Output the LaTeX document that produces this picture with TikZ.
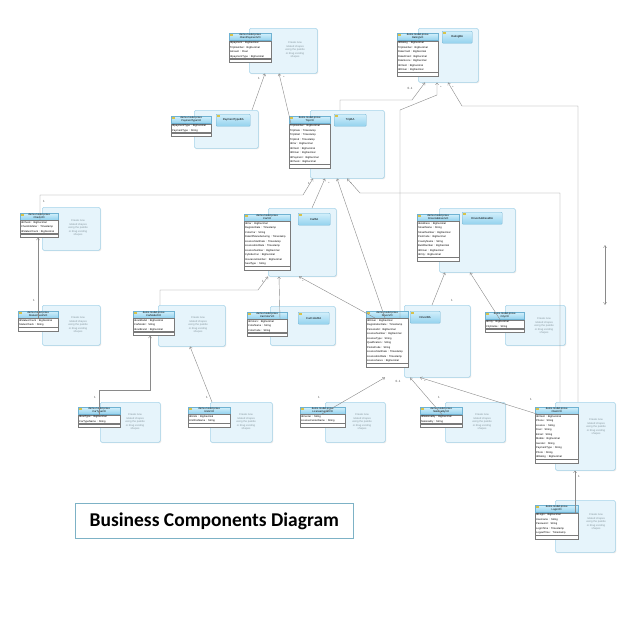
\documentclass[tikz,border=0pt]{standalone}
\usepackage{fontspec}
\setmainfont{Liberation Sans}
\newfontfamily\titlefont{Carlito}
\usetikzlibrary{arrows.meta,calc}

\definecolor{contfill}{HTML}{E6F4FB}
\definecolor{contdraw}{HTML}{A6D4EA}
\definecolor{hdrtop}{HTML}{D2EFFB}
\definecolor{hdrbot}{HTML}{93D2EE}
\definecolor{hdrdraw}{HTML}{6FB2D2}
\definecolor{bodydraw}{HTML}{7A7A7A}
\definecolor{linec}{HTML}{8A8A8A}
\definecolor{hinttext}{HTML}{8A9AA2}
\definecolor{titledraw}{HTML}{7DB2C6}
\definecolor{iconc}{HTML}{D8C24A}

\tikzset{
 cont/.style={draw=contdraw, fill=contfill, line width=0.5pt, rounded corners=1.5pt, inner sep=0pt},
 contshadow/.style={fill=black!10, rounded corners=1.5pt},
 hdr/.style={draw=hdrdraw, top color=hdrtop, bottom color=hdrbot, font=\fontsize{2.6}{3.1}\selectfont, align=center, inner xsep=1pt, inner ysep=0.8pt, anchor=north west},
 body/.style={draw=bodydraw, fill=white, font=\fontsize{2.6}{4.5}\selectfont, align=left, inner sep=1pt, anchor=north west},
 foot/.style={draw=bodydraw, fill=white, minimum height=3.5pt, inner sep=0pt, anchor=north west},
 babox/.style={draw=hdrdraw, top color=hdrtop, bottom color=hdrbot, font=\fontsize{2.8}{3.2}\selectfont, rounded corners=0.8pt, minimum height=12pt, inner sep=0pt, anchor=north west},
 hint/.style={font=\fontsize{2.7}{3.6}\selectfont, text=hinttext, align=center},
 conn/.style={draw=linec, line width=0.4pt, -{Straight Barb[length=2pt,width=3pt]}},
 mult/.style={font=\fontsize{3}{3}\selectfont, text=black!70, inner sep=0.3pt},
}

\newcommand\klass[6]{%
 \pgfmathsetmacro\kw{#4-2}%
 \node[hdr, text width=\kw pt] (#1h) at (#2,#3) {demo.model.proxe\\#5};
 \node[body, text width=\kw pt] (#1) at (#1h.south west) {#6};
 \node[foot, minimum width=#4pt] (#1f) at (#1.south west) {};
 \fill[iconc] ($(#1h.north west)+(0.8,0.8)$) rectangle ++(2.8,2.2);
}
\newcommand\cont[5]{%
 \fill[contshadow] (#2+1.2,#3+1.2) rectangle ++(#4,#5);
 \node[cont, minimum width=#4pt, minimum height=#5pt, anchor=north west] (#1) at (#2,#3) {};
}
\newcommand\babox[5]{%
 \node[babox, minimum width=#4pt] (#1) at (#2,#3) {#5};
 \fill[iconc] ($(#1.north west)+(0.8,0.8)$) rectangle ++(2.8,2.2);
}
\newcommand\hinttxt[3]{\node[hint] (#1) at (#2,#3) {Create new\\related shapes\\using the palette\\or drag existing\\shapes};}

\begin{document}
\begin{tikzpicture}[x=1pt,y=-1pt]
\fill[white] (0,0) rectangle (638,635);
\useasboundingbox (0,0) rectangle (638,635);

% containers
\cont{cp}{249}{28}{68}{45}
\cont{rt}{418}{28}{60}{54}
\cont{pt}{194}{110}{64}{38}
\cont{tr}{310}{110}{74}{68}
\cont{ck}{42}{207}{58}{43}
\cont{car}{268}{208}{68}{68}
\cont{da}{439}{208}{76}{64}
\cont{sc}{42}{305}{58}{40}
\cont{cm}{158}{305}{67}{41}
\cont{cc}{270}{306}{65}{39}
\cont{dr}{404}{305}{66}{72}
\cont{cty}{505}{305}{60}{40}
\cont{ct}{100}{402}{60}{40}
\cont{un}{210}{402}{62}{40}
\cont{lc}{325}{402}{60}{40}
\cont{nat}{445}{402}{60}{40}
\cont{cl}{555}{402}{60}{68}
\cont{lg}{555}{500}{60}{52}

% hint texts
\hinttxt{h1}{295}{50}
\hinttxt{h2}{78}{228}
\hinttxt{h3}{78}{325}
\hinttxt{h4}{198}{325}
\hinttxt{h5}{544}{326}
\hinttxt{h6}{135}{422}
\hinttxt{h7}{246}{422}
\hinttxt{h8}{362}{422}
\hinttxt{h9}{482}{422}
\hinttxt{h10}{596}{427}
\hinttxt{h11}{596}{522}

% BA boxes
\babox{rtba}{442}{31}{30}{RatingBA}
\babox{ptba}{216}{114}{34}{PaymentTypeBA}
\babox{trba}{334}{114}{32}{TripBA}
\babox{carba}{298}{213}{32}{CarBA}
\babox{daba}{462}{212}{40}{DriverAddressBA}
\babox{ccba}{298}{312}{31}{CarColorBA}
\babox{drba}{410}{311}{30}{DriverBA}

% classes
\klass{cpv}{229}{33}{42}{ClientPaymentVO}{Idpayment : BigDecimal\\TripNumber : BigDecimal\\Amount : Float\\IdpaymentType : BigDecimal}
\klass{rtv}{397}{33}{41}{RatingVO}{IdRating : BigDecimal\\TripNumber : BigDecimal\\RaterCard : BigDecimal\\RatedCard : BigDecimal\\RateScore : BigDecimal\\IdClient : BigDecimal\\IdDriver : BigDecimal}
\klass{ptv}{171}{116}{40}{PaymentTypeVO}{IdpaymentType : BigDecimal\\PaymentType : String}
\klass{trv}{289}{116}{41}{TripVO}{TripNumber : BigDecimal\\TripDate : Timestamp\\TripStart : Timestamp\\TripEnd : Timestamp\\IdCar : BigDecimal\\IdClient : BigDecimal\\IdDriver : BigDecimal\\IdPayment : BigDecimal\\IdCheck : BigDecimal}
\klass{ckv}{20}{213}{38}{CheckVO}{IdCheck : BigDecimal\\CheckInMeter : Timestamp\\IdStatusCheck : BigDecimal}
\klass{carv}{244}{214}{46}{CarVO}{IdCar : BigDecimal\\RegisterDate : Timestamp\\ColorCar : String\\DateOfManufacturing : Timestamp\\LicenceStartDate : Timestamp\\LicenceEndDate : Timestamp\\LicenceNumber : BigDecimal\\CylinderCar : BigDecimal\\InsuranceNumber : BigDecimal\\SeatType : String}
\klass{dav}{417}{214}{42}{DriverAddressVO}{IdAddress : BigDecimal\\StreetName : String\\StreetNumber : BigDecimal\\PostCode : BigDecimal\\CountyName : String\\BuildNumber : BigDecimal\\IdDriver : BigDecimal\\IdCity : BigDecimal}
\klass{scv}{18}{311}{40}{StatusCheckVO}{IdStatusCheck : BigDecimal\\StatusCheck : String}
\klass{cmv}{133}{311}{41}{CarModelVO}{IdcarModel : BigDecimal\\CarModel : String\\IdcarBrand : BigDecimal}
\klass{ccv}{247}{312}{40}{CarColorVO}{IdColors : BigDecimal\\ColorName : String\\ColorCode : String}
\klass{drv}{366}{311}{42}{DriverVO}{IdDriver : BigDecimal\\RegistrationDate : Timestamp\\PersonalId : BigDecimal\\LicenseNumber : BigDecimal\\LicenseType : String\\Qualification : String\\PostalCode : String\\LicenceStartDate : Timestamp\\LicenceEndDate : Timestamp\\LicenceServe : BigDecimal}
\klass{ctyv}{485}{312}{39}{CityVO}{IdCity : BigDecimal\\CityName : String}
\klass{ctv}{78}{407}{42}{CarTypeVO}{IdcarType : BigDecimal\\CarTypeName : String}
\klass{unv}{188}{407}{42}{UnitsVO}{IdUnits : BigDecimal\\UnitPosName : String}
\klass{lcv}{300}{407}{45}{LicenseCenterVO}{IdCenter : String\\LicenseCenterName : String}
\klass{natv}{420}{407}{42}{NationalityVO}{IdNationality : BigDecimal\\Nationality : String}
\klass{clv}{535}{407}{43}{ClientVO}{IdClient : BigDecimal\\Phone : String\\Licence : String\\Door : String\\Email : String\\Mobile : BigDecimal\\Gender : String\\PaymentType : String\\Photo : String\\IdRating : BigDecimal}
\klass{lgv}{535}{505}{43}{LoginVO}{IdLogin : BigDecimal\\Username : String\\Password : String\\LoginTime : Timestamp\\LogoutTime : Timestamp}

% connectors
\draw[conn] (pt.north -| 252,0) -- (cp.south -| 265,0);
\draw[conn] (trv.north -| 291,0) -- (cp.south -| 279,0);
\draw[conn] (tr.north -| 340,0) -- (340,100) -- (412,100) -- (rt.south -| 425,0);
\draw[conn] (drv.north -| 400,0) -- (400,110) -- (437,95) -- (rt.south -| 437,0);
\draw[conn] (cl.north -| 578,0) -- (578,106) -- (462,106) -- (rt.south -| 448,0);
\draw[conn] (ckv.north -| 40,0) -- (40,195) -- (303,195) -- (tr.south -| 313,0);
\draw[conn] (car.north -| 312,0) -- (tr.south -| 325,0);
\draw[conn] (drv.north -| 385,0) -- (tr.south -| 337,0);
\draw[conn] (cl.north -| 560,0) -- (560,193) -- (360,193) -- (tr.south -| 347,0);
\draw[conn] (cm.north -| 160,0) -- (160,290) -- (258,290) -- (car.south -| 268,0);
\draw[conn] (ccv.north -| 280,0) -- (car.south -| 279,0);
\draw[conn] (drv.north -| 375,0) -- (car.south -| 299,0);
\draw[conn] (un.north -| 212,0) -- (cm.south -| 190,0);
\draw[conn] (ctv.north -| 99,0) -- (99,390) -- (150,390) -- (cmvf.south -| 150,0);
\draw[conn] (lcv.north -| 322,0) -- (dr.south -| 385,0);
\draw[conn] (natv.north -| 442,0) -- (dr.south -| 410,0);
\draw[conn] (clv.north -| 537,0) -- (dr.south -| 420,0);
\draw[conn] (lgv.north -| 575,0) -- (cl.south -| 575,0);
\draw[conn] (scv.north -| 38,0) -- (ckvf.south -| 38,0);
\draw[conn] (dr.north -| 432,0) -- (da.south -| 445,0);
\draw[conn] (ctyv.north -| 500,0) -- (da.south -| 470,0);

% multiplicities
\node[mult] (m1) at (259,78) {1};
\node[mult] (m2) at (284,77) {*};
\node[mult] (m3) at (410,88) {0..1};
\node[mult] (m4) at (441,87) {*};
\node[mult] (m5) at (453,87) {*};
\node[mult] (m6) at (309,183) {1};
\node[mult] (m7) at (329,183) {*};
\node[mult] (m8) at (351,183) {*};
\node[mult] (m9) at (263,281) {1};
\node[mult] (m10) at (303,281) {*};
\node[mult] (m11) at (398,381) {0..1};
\node[mult] (m12) at (425,381) {*};
\node[mult] (m13) at (95,397) {1};
\node[mult] (m14) at (207,397) {1};
\node[mult] (m15) at (319,397) {1};
\node[mult] (m16) at (439,397) {1};
\node[mult] (m17) at (531,399) {1};
\node[mult] (m18) at (44,201) {1};
\node[mult] (m19) at (34,300) {1};
\node[mult] (m20) at (452,300) {1};
\node[mult] (m21) at (579,476) {1};

% free double arrow
\coordinate (va) at (605,245);
\coordinate (vb) at (605,305);
\draw[draw=linec, line width=0.4pt, {Straight Barb[length=2.5pt,width=3pt]}-{Straight Barb[length=2.5pt,width=3pt]}] (va) -- (vb);

% title
\node[draw=titledraw, line width=0.7pt, fill=white, minimum width=278pt, minimum height=35pt, anchor=north west, font=\titlefont\bfseries\fontsize{19.5}{22}\selectfont] (title) at (75,503) {Business Components Diagram};
\end{tikzpicture}
\end{document}
